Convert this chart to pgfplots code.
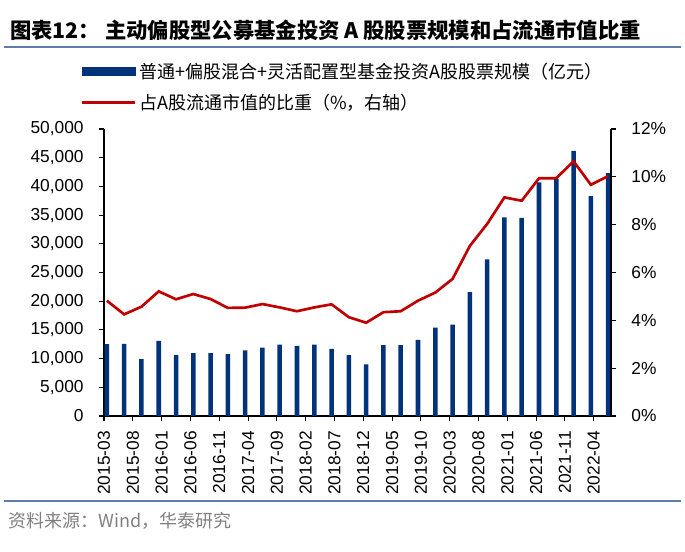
\documentclass[border=0pt]{standalone}
\usepackage{fontspec}
\setmainfont{Liberation Sans}
\newfontfamily\cjk{Noto Sans CJK SC}
\usepackage{pgfplots}
\pgfplotsset{compat=1.18}
\definecolor{barblue}{RGB}{0,51,122}
\definecolor{linered}{RGB}{192,0,0}
\definecolor{rulecol}{RGB}{95,125,170}
\definecolor{srcgrey}{RGB}{128,128,128}
\pgfplotstableread{
x y
0.5 12500
3.5 12550
6.5 9900
9.5 13100
12.5 10600
15.5 10950
18.5 10950
21.5 10800
24.5 11450
27.5 11900
30.5 12450
33.5 12200
36.5 12450
39.5 11700
42.5 10600
45.5 9000
48.5 12350
51.5 12350
54.5 13250
57.5 15400
60.5 15900
63.5 21600
66.5 27300
69.5 34600
72.5 34500
75.5 40700
78.5 41300
81.5 46200
84.5 38300
87.5 42300
}\bars
\pgfplotstableread{
x y
0.5 4.82
3.5 4.25
6.5 4.57
9.5 5.21
12.5 4.88
15.5 5.10
18.5 4.89
21.5 4.52
24.5 4.53
27.5 4.68
30.5 4.54
33.5 4.38
36.5 4.54
39.5 4.67
42.5 4.13
45.5 3.90
48.5 4.34
51.5 4.38
54.5 4.82
57.5 5.16
60.5 5.73
63.5 7.11
66.5 8.03
69.5 9.14
72.5 9.00
75.5 9.94
78.5 9.94
81.5 10.65
84.5 9.67
87.5 10.03
}\ratio
\begin{document}
\begin{tikzpicture}
\path[use as bounding box] (0,0) rectangle (513.75pt,414pt);
% title
\node[anchor=west, inner sep=0pt, font=\cjk\bfseries\fontsize{16}{18}\selectfont] at (7.5pt,391.5pt) {图表12：\ 主动偏股型公募基金投资 A 股股票规模和占流通市值比重};
\draw[rulecol, line width=1.6pt] (3pt,378.75pt) -- (510.75pt,378.75pt);
% source
\draw[rulecol, line width=1.2pt] (3pt,38.25pt) -- (510.75pt,38.25pt);
\node[anchor=west, inner sep=0pt, text=srcgrey, font=\cjk\fontsize{13.5}{15}\selectfont] at (6pt,23.25pt) {资料来源：Wind，华泰研究};

\pgfplotsset{
  base/.style={
    at={(78pt,102pt)}, anchor=south west,
    scale only axis, width=380.25pt, height=215.25pt,
    xmin=0, xmax=88,
    tick align=outside,
    major tick length=3.75pt,
    axis line style={black, line width=0.8pt},
    tick style={black, line width=0.8pt},
    tick label style={font=\fontsize{13}{15}\selectfont},
    /pgf/number format/assume math mode=true,
  }
}
\begin{axis}[base,
  axis x line*=bottom, axis y line*=left,
  ymin=0, ymax=50000, ytick={0,5000,...,50000},
  scaled y ticks=false,
  /pgf/number format/1000 sep={,},
  yticklabel style={xshift=-8pt},
  xtick={0,5,...,85},
  xticklabels={2015-03,2015-08,2016-01,2016-06,2016-11,2017-04,2017-09,2018-02,2018-07,2018-12,2019-05,2019-10,2020-03,2020-08,2021-01,2021-06,2021-11,2022-04},
  xticklabel style={rotate=90, anchor=east, xshift=-4pt},
]
\addplot[ybar, bar width=3.4pt, fill=barblue, draw=none] table[x=x,y=y] {\bars};
\end{axis}
\begin{axis}[base,
  axis x line=none, axis y line*=right,
  ymin=0, ymax=12, ytick={0,2,...,12},
  yticklabel={\pgfmathprintnumber{\tick}\%},
  yticklabel style={xshift=8pt},
  legend style={draw=none, fill=none, at={(axis description cs:-0.047,1.24)}, anchor=north west,
    font=\cjk\fontsize{13.5}{16}\selectfont, row sep=6pt, inner sep=0pt},
  legend cell align=left,
]
\addlegendimage{legend image code/.code={\fill[barblue] (0pt,-3pt) rectangle (40pt,3pt);}}
\addlegendentry{普通+偏股混合+灵活配置型基金投资A股股票规模（亿元）}
\addplot[linered, line width=2pt, legend image code/.code={\draw[linered, line width=2pt] (0pt,0pt) -- (40pt,0pt);}] table[x=x,y=y] {\ratio};
\addlegendentry{占A股流通市值的比重（\%，右轴）}
\end{axis}
\end{tikzpicture}
\end{document}
